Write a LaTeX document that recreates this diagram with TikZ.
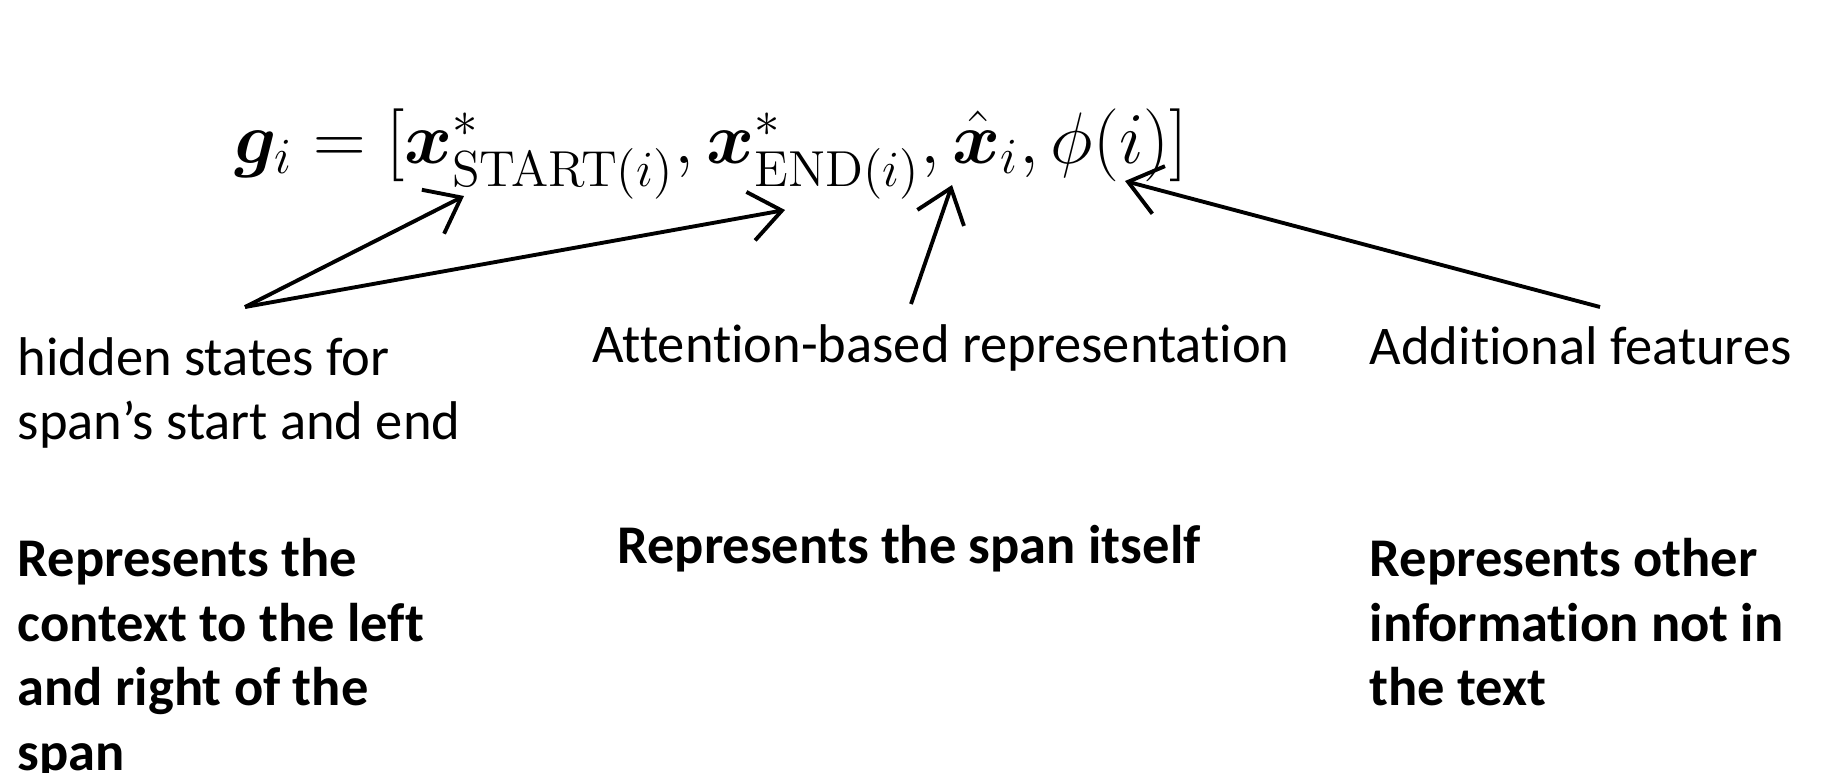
\documentclass[tikz,border=0pt]{standalone}
\usepackage{amsmath,bm}
\usepackage[no-math]{fontspec}
\setmainfont{Carlito}[Ligatures={NoCommon,NoRare,NoDiscretionary}]
\usetikzlibrary{arrows.meta}
\begin{document}
\begin{tikzpicture}[x=0.01cm,y=-0.01cm,
  lbl/.style={inner sep=0pt,font=\fontsize{15.5}{18.3}\selectfont,align=left},
  bl/.style={inner sep=0pt,font=\fontsize{15.5}{18.3}\selectfont\bfseries,align=left},
  arr/.style={line width=1.1pt,-{Straight Barb[length=9pt,width=14pt,line width=1.1pt]}}]
\useasboundingbox (0,0) rectangle (1822,772);
\node[inner sep=0pt,anchor=base west,font=\fontsize{20.3}{24}\selectfont] (f) at (234,163)
  {$\bm{g}_i=[\bm{x}^*_{\mathrm{START}(i)},\bm{x}^*_{\mathrm{END}(i)},\hat{\bm{x}}_i,\phi(i)]$};
\node[lbl,anchor=north west] (h) at (17,337) {hidden states for\\span’s start and end};
\node[lbl,anchor=base] (a) at (941,362) {Attention-based representation};
\node[lbl,anchor=base west] (ad) at (1369,364) {Additional features};
\node[bl,anchor=north west] (b1) at (17,538) {Represents the\\context to the left\\and right of the\\span};
\node[bl,anchor=base] (b2) at (909,563) {Represents the span itself};
\node[bl,anchor=north west] (b3) at (1369,538) {Represents other\\information not in\\the text};
\coordinate (s1) at (245,307);
\coordinate (t1) at (464,196);
\coordinate (t2) at (785,210);
\coordinate (s2) at (911,304);
\coordinate (t3) at (952,185);
\coordinate (s3) at (1600,307);
\coordinate (t4) at (1125,181);
\draw[arr] (s1) -- (t1);
\draw[arr] (s1) -- (t2);
\draw[arr] (s2) -- (t3);
\draw[arr] (s3) -- (t4);
\end{tikzpicture}
\end{document}
